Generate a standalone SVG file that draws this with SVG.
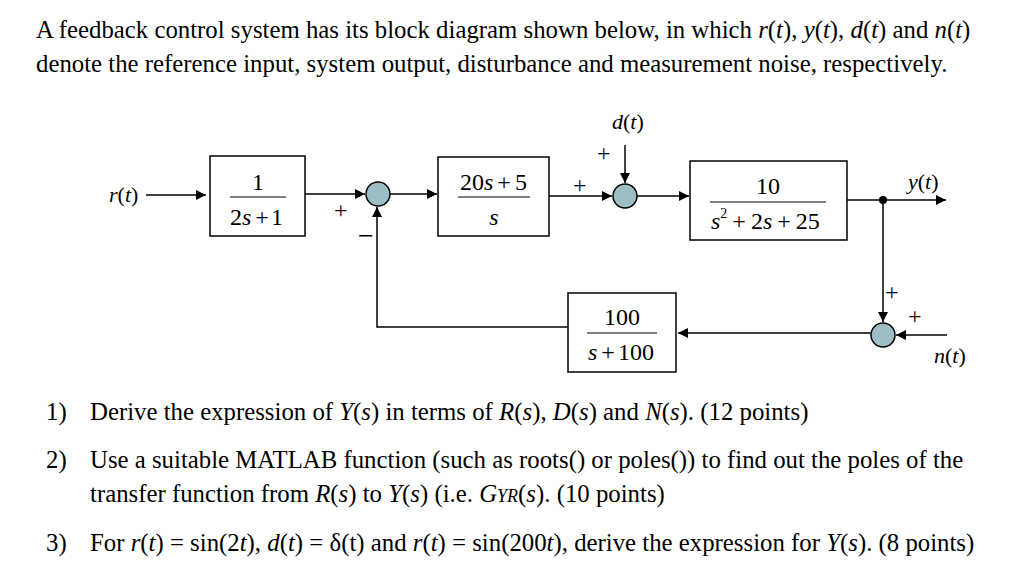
<svg xmlns="http://www.w3.org/2000/svg" width="1024" height="572" viewBox="0 0 1024 572">
<defs>
<style>
text{font-family:"Liberation Serif","Times New Roman",serif;fill:#000}
.t{font-size:24.8px}
.d{font-size:22px}
.f{font-size:24px}
.p{font-size:24px}
.i{font-style:italic}
.blk{fill:#fff;stroke:#000;stroke-width:1.5}
.sum{fill:#9dbec4;stroke:#000;stroke-width:1.5}
.ln{fill:none;stroke:#000;stroke-width:1.5}
.fr{stroke:#000;stroke-width:1.2}
</style>
<marker id="ah" viewBox="0 0 10 10" refX="10" refY="5" markerWidth="10" markerHeight="10" markerUnits="userSpaceOnUse" orient="auto">
<path d="M0,0 L10,5 L0,10 z" fill="#000"/>
</marker>
</defs>
<rect width="1024" height="572" fill="#fff"/>

<g id="title">
<text class="t" x="36" y="38">A feedback control system has its block diagram shown below, in which <tspan class="i">r</tspan>(<tspan class="i">t</tspan>), <tspan class="i">y</tspan>(<tspan class="i">t</tspan>), <tspan class="i">d</tspan>(<tspan class="i">t</tspan>) and <tspan class="i">n</tspan>(<tspan class="i">t</tspan>)</text>
<text class="t" x="36" y="72">denote the reference input, system output, disturbance and measurement noise, respectively.</text>
</g>

<g id="connectors">
<path class="ln" d="M146,195 H206" marker-end="url(#ah)"/>
<path class="ln" d="M305,194 H365" marker-end="url(#ah)"/>
<path class="ln" d="M390,194 H437" marker-end="url(#ah)"/>
<path class="ln" d="M549,196 H612" marker-end="url(#ah)"/>
<path class="ln" d="M625,145 V183" marker-end="url(#ah)"/>
<path class="ln" d="M637,196 H689" marker-end="url(#ah)"/>
<path class="ln" d="M847,200 H946" marker-end="url(#ah)"/>
<path class="ln" d="M883,200 V322" marker-end="url(#ah)"/>
<path class="ln" d="M947,335 H896" marker-end="url(#ah)"/>
<path class="ln" d="M871,333 H678" marker-end="url(#ah)"/>
<path class="ln" d="M568,327 H377 V207" marker-end="url(#ah)"/>
<circle cx="883" cy="200" r="4" fill="#000"/>
</g>

<g id="labels">
<text class="d" x="109" y="202"><tspan class="i">r</tspan>(<tspan class="i">t</tspan>)</text>
<text class="p" x="334" y="218">+</text>
<text x="358" y="245" font-size="28">−</text>
<text class="d" x="612" y="129"><tspan class="i">d</tspan>(<tspan class="i">t</tspan>)</text>
<text class="p" x="597" y="161">+</text>
<text class="p" x="573" y="193">+</text>
<text class="d" x="908" y="189"><tspan class="i">y</tspan>(<tspan class="i">t</tspan>)</text>
<text class="p" x="885" y="300">+</text>
<text class="p" x="908" y="324">+</text>
<text class="d" x="934" y="363"><tspan class="i">n</tspan>(<tspan class="i">t</tspan>)</text>
</g>

<g id="sum1"><circle class="sum" cx="378" cy="194" r="12"/></g>
<g id="sum2"><circle class="sum" cx="625" cy="196" r="12"/></g>
<g id="sum3"><circle class="sum" cx="883" cy="335" r="12"/></g>

<g id="block1">
<rect class="blk" x="210" y="156" width="95" height="80"/>
<text class="f" x="258" y="190" text-anchor="middle">1</text>
<line class="fr" x1="230" y1="197" x2="286" y2="197"/>
<text class="f" x="230" y="225">2<tspan class="i">s</tspan><tspan dx="4">+</tspan><tspan dx="2">1</tspan></text>
</g>

<g id="block2">
<rect class="blk" x="438" y="157" width="111" height="79"/>
<text class="f" x="460" y="190">20<tspan class="i">s</tspan><tspan dx="4">+</tspan><tspan dx="4">5</tspan></text>
<line class="fr" x1="458" y1="197" x2="530" y2="197"/>
<text class="f i" x="494" y="225" text-anchor="middle">s</text>
</g>

<g id="block3">
<rect class="blk" x="690" y="161" width="157" height="79"/>
<text class="f" x="768" y="194" text-anchor="middle">10</text>
<line class="fr" x1="710" y1="202" x2="826" y2="202"/>
<text class="f" x="711" y="229"><tspan class="i">s</tspan><tspan font-size="14" dy="-11">2</tspan><tspan dy="11" dx="5">+</tspan><tspan dx="5">2</tspan><tspan class="i">s</tspan><tspan dx="5">+</tspan><tspan dx="5">25</tspan></text>
</g>

<g id="block4">
<rect class="blk" x="568" y="293" width="108" height="79"/>
<text class="f" x="622" y="325" text-anchor="middle">100</text>
<line class="fr" x1="587" y1="333" x2="657" y2="333"/>
<text class="f" x="588" y="360"><tspan class="i">s</tspan><tspan dx="4">+</tspan><tspan dx="3">100</tspan></text>
</g>

<g id="questions">
<text class="t" x="46" y="420">1)</text>
<text class="t" x="90" y="420">Derive the expression of <tspan class="i">Y</tspan>(<tspan class="i">s</tspan>) in terms of <tspan class="i">R</tspan>(<tspan class="i">s</tspan>), <tspan class="i">D</tspan>(<tspan class="i">s</tspan>) and <tspan class="i">N</tspan>(<tspan class="i">s</tspan>). (12 points)</text>
<text class="t" x="46" y="468">2)</text>
<text class="t" x="90" y="468">Use a suitable MATLAB function (such as roots() or poles()) to find out the poles of the</text>
<text class="t" x="90" y="502">transfer function from <tspan class="i">R</tspan>(<tspan class="i">s</tspan>) to <tspan class="i">Y</tspan>(<tspan class="i">s</tspan>) (i.e. <tspan class="i">G</tspan><tspan class="i" font-size="18">YR</tspan>(<tspan class="i">s</tspan>). (10 points)</text>
<text class="t" x="46" y="551">3)</text>
<text class="t" x="90" y="551">For <tspan class="i">r</tspan>(<tspan class="i">t</tspan>) = sin(2<tspan class="i">t</tspan>), <tspan class="i">d</tspan>(<tspan class="i">t</tspan>) = δ(t) and <tspan class="i">r</tspan>(<tspan class="i">t</tspan>) = sin(200<tspan class="i">t</tspan>), derive the expression for <tspan class="i">Y</tspan>(<tspan class="i">s</tspan>). (8 points)</text>
</g>
</svg>
